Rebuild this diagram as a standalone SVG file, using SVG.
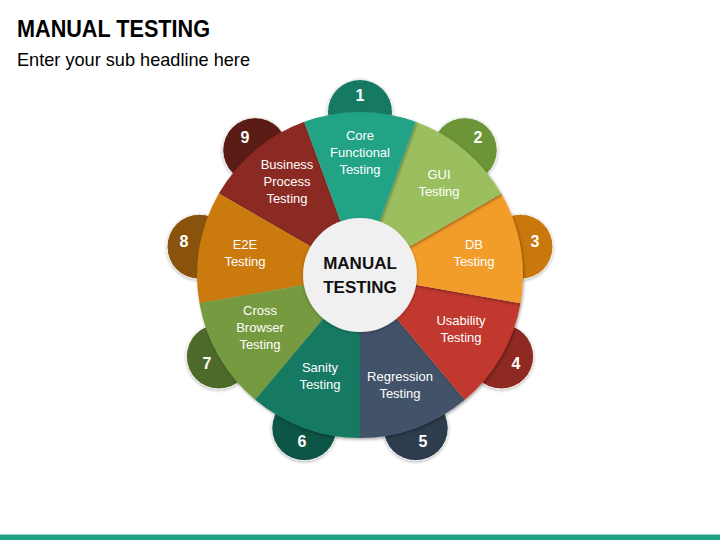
<svg xmlns="http://www.w3.org/2000/svg" width="720" height="540" viewBox="0 0 720 540">
<defs>
<filter id="sh" x="-20%" y="-20%" width="140%" height="140%"><feDropShadow dx="1" dy="1.5" stdDeviation="1.5" flood-color="#000" flood-opacity="0.35"/></filter>
<filter id="csh" x="-30%" y="-30%" width="160%" height="160%"><feDropShadow dx="0" dy="1" stdDeviation="1.5" flood-color="#000" flood-opacity="0.3"/></filter>
</defs>
<style>
.lbl{font-family:"Liberation Sans",Arial,sans-serif;font-size:13px;fill:#fff;text-anchor:middle}
.num{font-family:"Liberation Sans",Arial,sans-serif;font-size:16px;font-weight:bold;fill:#fff;text-anchor:middle}
.seg{filter:url(#sh)}
.dot{filter:url(#csh);stroke:#f4f4f4;stroke-width:1}
</style>
<rect width="720" height="540" fill="#fff"/>
<text x="17" y="37" font-family="'Liberation Sans',Arial,sans-serif" font-size="24" font-weight="bold" fill="#000" textLength="193" lengthAdjust="spacingAndGlyphs">MANUAL TESTING</text>
<text x="17" y="66" font-family="'Liberation Sans',Arial,sans-serif" font-size="18.5" fill="#000" textLength="233" lengthAdjust="spacingAndGlyphs">Enter your sub headline here</text>
<rect x="0" y="534" width="720" height="1" fill="#8fd0c0"/>
<rect x="0" y="535" width="720" height="5" fill="#1FA082"/>

<g id="circles">
<circle class="dot" cx="360" cy="112" r="32.5" fill="#187A62"/>
<circle class="dot" cx="464.77" cy="150.14" r="32.5" fill="#6C9539"/>
<circle class="dot" cx="520.52" cy="246.7" r="32.5" fill="#C9780F"/>
<circle class="dot" cx="501.16" cy="356.5" r="32.5" fill="#8E2923"/>
<circle class="dot" cx="415.75" cy="428.17" r="32.5" fill="#2F3C4E"/>
<circle class="dot" cx="304.25" cy="428.17" r="32.5" fill="#0F5444"/>
<circle class="dot" cx="218.84" cy="356.5" r="32.5" fill="#4E6A2A"/>
<circle class="dot" cx="199.48" cy="246.7" r="32.5" fill="#8A520B"/>
<circle class="dot" cx="255.23" cy="150.14" r="32.5" fill="#5C1B17"/>
</g>
<g id="numbers">
<text class="num" x="360" y="101">1</text>
<text class="num" x="478" y="143">2</text>
<text class="num" x="535" y="247">3</text>
<text class="num" x="516" y="369">4</text>
<text class="num" x="423" y="447">5</text>
<text class="num" x="302" y="447">6</text>
<text class="num" x="207" y="369">7</text>
<text class="num" x="184" y="247">8</text>
<text class="num" x="245" y="143">9</text>
</g>

<g id="seg9"><path class="seg" d="M360 275 L218.84 193.5 A163 163 0 0 1 304.25 121.83 Z" fill="#8B2A23"/>
<text class="lbl" x="287" y="168.5">Business</text><text class="lbl" x="287" y="185.5">Process</text><text class="lbl" x="287" y="202.5">Testing</text></g>
<g id="seg8"><path class="seg" d="M360 275 L199.48 303.3 A163 163 0 0 1 218.84 193.5 Z" fill="#CB7A10"/>
<text class="lbl" x="245" y="248.5">E2E</text><text class="lbl" x="245" y="265.5">Testing</text></g>
<g id="seg7"><path class="seg" d="M360 275 L255.23 399.86 A163 163 0 0 1 199.48 303.3 Z" fill="#769A3F"/>
<text class="lbl" x="260" y="314.5">Cross</text><text class="lbl" x="260" y="331.5">Browser</text><text class="lbl" x="260" y="348.5">Testing</text></g>
<g id="seg6"><path class="seg" d="M360 275 L360 438 A163 163 0 0 1 255.23 399.86 Z" fill="#177A63"/>
<text class="lbl" x="320" y="371.5">Sanity</text><text class="lbl" x="320" y="388.5">Testing</text></g>
<g id="seg5"><path class="seg" d="M360 275 L464.77 399.86 A163 163 0 0 1 360 438 Z" fill="#435369"/>
<text class="lbl" x="400" y="380.5">Regression</text><text class="lbl" x="400" y="397.5">Testing</text></g>
<g id="seg4"><path class="seg" d="M360 275 L520.52 303.3 A163 163 0 0 1 464.77 399.86 Z" fill="#C0382F"/>
<text class="lbl" x="461" y="324.5">Usability</text><text class="lbl" x="461" y="341.5">Testing</text></g>
<g id="seg3"><path class="seg" d="M360 275 L501.16 193.5 A163 163 0 0 1 520.52 303.3 Z" fill="#F29C2A"/>
<text class="lbl" x="474" y="248.5">DB</text><text class="lbl" x="474" y="265.5">Testing</text></g>
<g id="seg2"><path class="seg" d="M360 275 L415.75 121.83 A163 163 0 0 1 501.16 193.5 Z" fill="#9BBF5E"/>
<text class="lbl" x="439" y="178.5">GUI</text><text class="lbl" x="439" y="195.5">Testing</text></g>
<g id="seg1"><path class="seg" d="M360 275 L304.25 121.83 A163 163 0 0 1 415.75 121.83 Z" fill="#20A385"/>
<text class="lbl" x="360" y="139.5">Core</text><text class="lbl" x="360" y="156.5">Functional</text><text class="lbl" x="360" y="173.5">Testing</text></g>

<g id="center">
<circle cx="360" cy="275" r="57" fill="#F0F0F0" filter="url(#csh)"/>
<text x="360" y="269" font-family="'Liberation Sans',Arial,sans-serif" font-size="17" font-weight="bold" fill="#111" text-anchor="middle">MANUAL</text>
<text x="360" y="293" font-family="'Liberation Sans',Arial,sans-serif" font-size="17" font-weight="bold" fill="#111" text-anchor="middle">TESTING</text>
</g>
</svg>
